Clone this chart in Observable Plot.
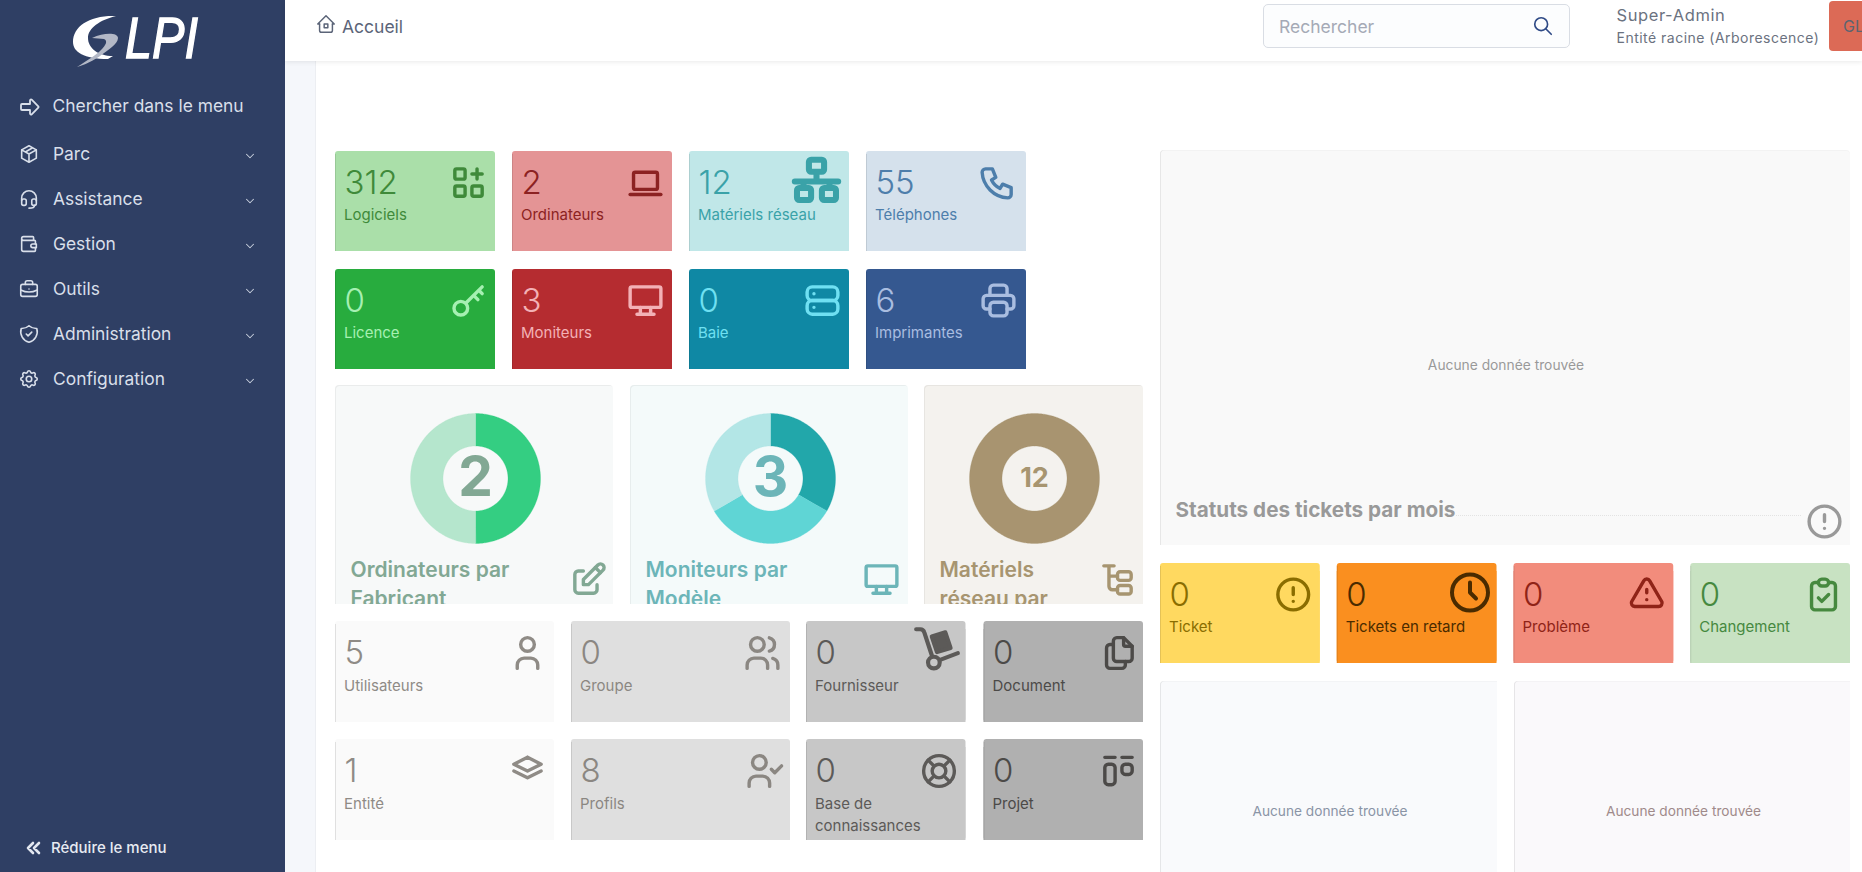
<!DOCTYPE html>
<html lang="fr"><head><meta charset="utf-8"><title>GLPI</title>
<script src="https://cdn.jsdelivr.net/npm/d3@7"></script>
<script src="https://cdn.jsdelivr.net/npm/@observablehq/plot@0.6"></script>
<style>
html,body{margin:0;padding:0;width:1862px;height:872px;overflow:hidden;background:#fff;font-family:Inter,"Noto Sans",sans-serif}
.abs{position:absolute}
#side{left:0;top:0;width:285px;height:872px;background:#2f3f64}
#band{left:285px;top:0;width:31px;height:872px;background:#f5f7fb;border-right:1px solid #eceef2;box-sizing:border-box}
#head{left:285px;top:0;width:1577px;height:61px;background:#fff;box-shadow:0 1px 5px rgba(0,0,0,.09)}
.menu{color:#d9dfea;font-size:17.400px;white-space:nowrap;line-height:20px}
.plot{position:absolute}
.plot svg{display:block}
</style></head><body>
<div id="root"></div>
<script>
// ---- data ----------------------------------------------------------------
const menuLabels = ["Parc", "Assistance", "Gestion", "Outils", "Administration", "Configuration"];
const menuIcons = ["package", "headset", "wallet", "briefcase", "shield", "settings"];

const assetLabels = ["Logiciels", "Ordinateurs", "Matériels réseau", "Téléphones", "Licence", "Moniteurs", "Baie", "Imprimantes"];
const assetValues = [312, 2, 12, 55, 0, 3, 0, 6];
const assetIcons = ["apps", "laptop", "sitemap", "phone", "key", "desktop", "server", "printer"];

const adminLabelsWide = ["Utilisateurs", "Groupe", "Entité", "Profils"];
const adminValuesWide = [5, 0, 1, 8];
const adminIconsWide = ["user", "users", "stack", "userCheck"];
const adminLabelsNarrow = ["Fournisseur", "Document", "Base de\nconnaissances", "Projet"];
const adminValuesNarrow = [0, 0, 0, 0];
const adminIconsNarrow = ["dolly", "files", "lifebuoy", "kanban"];

const ticketLabels = ["Ticket", "Tickets en retard", "Problème", "Changement"];
const ticketValues = [0, 0, 0, 0];
const ticketIcons = ["alert", "clock", "triangle", "clipboard"];

const computerSlices = [1, 1];
const monitorSlices = [1, 1, 1];
const networkSlices = [12];
const donutTitles = ["Ordinateurs par\nFabricant", "Moniteurs par\nModèle", "Matériels\nréseau par"];

// ---- styles --------------------------------------------------------------
const assetFill = ["#aadfa9", "#e49495", "#c0e7e8", "#d5e1ec", "#28ac3e", "#b52c30", "#0f88a4", "#355890"];
const assetInk = ["#3f8a3a", "#8c2222", "#3aa2a8", "#4d7eab", "#a6f0b2", "#f3b1b6", "#6fe0f2", "#a9bde0"];
const wideFill = ["#fafafa", "#dfdfdf", "#fafafa", "#dfdfdf"];
const wideInk = ["#8f8b86", "#8b8782", "#8f8b86", "#8b8782"];
const narrowFill = ["#c7c7c7", "#b0b0b0", "#c7c7c7", "#b0b0b0"];
const narrowInk = ["#5c5a58", "#4c4a48", "#5c5a58", "#4c4a48"];
const ticketFill = ["#ffd960", "#fa8f1f", "#f28c7c", "#c8e2c2"];
const ticketInk = ["#8a6d00", "#4a2b00", "#8f2317", "#46893f"];
const iconTweak = {
  sitemap: {size: 52, dx: -6, dy: -1}, phone: {dx: -2}, printer: {dx: -1},
  dolly: {size: 50, dx: -2, dy: -4}, files: {dx: 2}, kanban: {dx: 2},
  clock: {size: 48, dy: -2}, users: {dx: -1}, userCheck: {dx: 1}
};

// ---- icon artwork --------------------------------------------------------
const ICON = {
  apps:'<rect x="4" y="4" width="6" height="6" rx="1"/><rect x="4" y="14" width="6" height="6" rx="1"/><rect x="14" y="14" width="6" height="6" rx="1"/><path d="M14 7h6M17 4v6"/>',
  laptop:'<path d="M3 19h18"/><rect x="5" y="6" width="14" height="10" rx="1"/>',
  sitemap:'<g stroke-width="2.800"><rect x="8.500" y="2" width="7" height="5.500" rx="1"/><path d="M12 8v4M2 12h20M6 12v3M18 12v3"/><rect x="3" y="15" width="6.500" height="5.500" rx="1"/><rect x="14.500" y="15" width="6.500" height="5.500" rx="1"/></g>',
  phone:'<path d="M5 4h4l2 5l-2.500 1.500a11 11 0 0 0 5 5l1.500 -2.500l5 2v4a2 2 0 0 1 -2 2a16 16 0 0 1 -15 -15a2 2 0 0 1 2 -2"/>',
  key:'<circle cx="7.500" cy="16.500" r="4"/><path d="M10.500 13.500L20 4M15 9l2.500 2.500M18 6l2 2"/>',
  desktop:'<rect x="3" y="4" width="18" height="12" rx="1"/><path d="M7 20h10M9 16v4M15 16v4"/>',
  server:'<rect x="3" y="4" width="18" height="8" rx="3"/><rect x="3" y="12" width="18" height="8" rx="3"/><path d="M7 8v.01M7 16v.01"/>',
  printer:'<path d="M17 17h2a2 2 0 0 0 2 -2v-4a2 2 0 0 0 -2 -2h-14a2 2 0 0 0 -2 2v4a2 2 0 0 0 2 2h2"/><path d="M17 9v-4a2 2 0 0 0 -2 -2h-6a2 2 0 0 0 -2 2v4"/><rect x="7" y="13" width="10" height="8" rx="2"/>',
  user:'<circle cx="12" cy="7" r="4"/><path d="M6 21v-2a4 4 0 0 1 4 -4h4a4 4 0 0 1 4 4v2"/>',
  users:'<circle cx="9" cy="7" r="4"/><path d="M3 21v-2a4 4 0 0 1 4 -4h4a4 4 0 0 1 4 4v2"/><path d="M16 3.130a4 4 0 0 1 0 7.750M21 21v-2a4 4 0 0 0 -3 -3.850"/>',
  dolly:'<path d="M2 2.500h2c1 0 1.600.5 1.900 1.500L9.500 15"/><circle cx="10.500" cy="18.500" r="2.800"/><path d="M13.500 17.200L22 14"/><path fill="currentColor" d="M9.500 6L16 4l2.500 7.500L12 13.500z"/>',
  files:'<path d="M15 3v4a1 1 0 0 0 1 1h4"/><path d="M18 17h-7a2 2 0 0 1 -2 -2v-10a2 2 0 0 1 2 -2h4l5 5v7a2 2 0 0 1 -2 2z"/><path d="M16 17v2a2 2 0 0 1 -2 2h-7a2 2 0 0 1 -2 -2v-10a2 2 0 0 1 2 -2h2"/>',
  stack:'<path d="M12 4l-8 4l8 4l8 -4l-8 -4"/><path d="M4 12l8 4l8 -4"/>',
  userCheck:'<circle cx="9" cy="7" r="4"/><path d="M3 21v-2a4 4 0 0 1 4 -4h4a4 4 0 0 1 4 4v2"/><path d="M16 11l2 2l4 -4"/>',
  lifebuoy:'<circle cx="12" cy="12" r="4"/><circle cx="12" cy="12" r="9"/><path d="M15 15l3.350 3.350M9 15l-3.350 3.350M5.650 5.650l3.350 3.350M18.350 5.650l-3.350 3.350"/>',
  kanban:'<path d="M4 4h6M14 4h6"/><rect x="4" y="8" width="6" height="12" rx="2"/><rect x="14" y="8" width="6" height="6" rx="2"/>',
  alert:'<circle cx="12" cy="12" r="9"/><path d="M12 8v4M12 16h.01"/>',
  clock:'<circle cx="12" cy="12" r="9"/><path d="M12 7v5l3 3"/>',
  triangle:'<path d="M12 9v2m0 4v.01"/><path d="M5 19h14a2 2 0 0 0 1.840 -2.750l-7.100 -12.250a2 2 0 0 0 -3.500 0l-7.100 12.250a2 2 0 0 0 1.750 2.750"/>',
  clipboard:'<path d="M9 5h-2a2 2 0 0 0 -2 2v12a2 2 0 0 0 2 2h10a2 2 0 0 0 2 -2v-12a2 2 0 0 0 -2 -2h-2"/><rect x="9" y="3" width="6" height="4" rx="2"/><path d="M9 14l2 2l4 -4"/>',
  edit:'<path d="M9 7h-3a2 2 0 0 0 -2 2v9a2 2 0 0 0 2 2h9a2 2 0 0 0 2 -2v-3"/><path d="M9 15h3l8.500 -8.500a1.500 1.500 0 0 0 -3 -3l-8.500 8.500v3"/><path d="M16 5l3 3"/>',
  hierarchy:'<path d="M4 4h6M7 4v12a2 2 0 0 0 2 2h3M7 10h5"/><rect x="12" y="7.500" width="8" height="5" rx="1.500"/><rect x="12" y="15.500" width="8" height="5" rx="1.500"/>',
  home:'<path d="M5 12h-2l9 -9l9 9h-2"/><path d="M5 12v7a2 2 0 0 0 2 2h10a2 2 0 0 0 2 -2v-7"/><rect x="10" y="12" width="4" height="4"/>',
  arrow:'<path d="M4 9h8v-3.586a1 1 0 0 1 1.707 -.707l6.586 6.586a1 1 0 0 1 0 1.414l-6.586 6.586a1 1 0 0 1 -1.707 -.707v-3.586h-8a1 1 0 0 1 -1 -1v-4a1 1 0 0 1 1 -1z"/>',
  package:'<path d="M12 3l8 4.500v9l-8 4.500l-8 -4.500v-9l8 -4.500M12 12l8 -4.500M12 12v9M12 12l-8 -4.500M16 5.250l-8 4.500"/>',
  headset:'<path d="M4 14v-3a8 8 0 1 1 16 0v3M18 19c0 1.657 -2.686 3 -6 3"/><path d="M4 14a2 2 0 0 1 2 -2h1a2 2 0 0 1 2 2v3a2 2 0 0 1 -2 2h-1a2 2 0 0 1 -2 -2v-3z"/><path d="M15 14a2 2 0 0 1 2 -2h1a2 2 0 0 1 2 2v3a2 2 0 0 1 -2 2h-1a2 2 0 0 1 -2 -2v-3z"/>',
  wallet:'<path d="M17 8v-3a1 1 0 0 0 -1 -1h-10a2 2 0 0 0 0 4h12a1 1 0 0 1 1 1v3m0 4v3a1 1 0 0 1 -1 1h-12a2 2 0 0 1 -2 -2v-12"/><path d="M20 12v4h-4a2 2 0 0 1 0 -4h4"/>',
  briefcase:'<rect x="3" y="7" width="18" height="13" rx="2"/><path d="M8 7v-2a2 2 0 0 1 2 -2h4a2 2 0 0 1 2 2v2M12 12v.01M3 13a20 20 0 0 0 18 0"/>',
  shield:'<path d="M9 12l2 2l4 -4"/><path d="M12 3a12 12 0 0 0 8.500 3a12 12 0 0 1 -8.500 15a12 12 0 0 1 -8.500 -15a12 12 0 0 0 8.500 -3"/>',
  settings:'<path d="M10.325 4.317c.426 -1.756 2.924 -1.756 3.350 0a1.724 1.724 0 0 0 2.573 1.066c1.543 -.94 3.310 .826 2.370 2.370a1.724 1.724 0 0 0 1.065 2.572c1.756 .426 1.756 2.924 0 3.350a1.724 1.724 0 0 0 -1.066 2.573c.94 1.543 -.826 3.310 -2.370 2.370a1.724 1.724 0 0 0 -2.572 1.065c-.426 1.756 -2.924 1.756 -3.350 0a1.724 1.724 0 0 0 -2.573 -1.066c-1.543 .94 -3.310 -.826 -2.370 -2.370a1.724 1.724 0 0 0 -1.065 -2.572c-1.756 -.426 -1.756 -2.924 0 -3.350a1.724 1.724 0 0 0 1.066 -2.573c-.94 -1.543 .826 -3.310 2.370 -2.370c1 .608 2.296 .07 2.572 -1.065z"/><circle cx="12" cy="12" r="3"/>',
  chevron:'<path d="M6 9l6 6l6 -6"/>',
  chevrons:'<path d="M11 7l-5 5l5 5M17 7l-5 5l5 5"/>',
  search:'<circle cx="10" cy="10" r="7"/><path d="M21 21l-6 -6"/>'
};
const iconSvg = (name, color, size, sw = 2) =>
  `<svg xmlns="http://www.w3.org/2000/svg" width="${size}" height="${size}" viewBox="0 0 24 24" fill="none" stroke="${color}" color="${color}" stroke-width="${sw}" stroke-linecap="round" stroke-linejoin="round">${ICON[name]}</svg>`;
const iconUri = (name, color, size) => "data:image/svg+xml," + encodeURIComponent(iconSvg(name, color, size * 2));

// ---- page helpers --------------------------------------------------------
const root = document.getElementById("root");
function box(css, html = "", cls = "abs", id) {
  const d = document.createElement("div");
  d.className = cls; d.style.cssText = css; d.innerHTML = html; if (id) d.id = id;
  root.appendChild(d); return d;
}
function place(node, left, top, css = "") {
  const d = box(`left:${left}px;top:${top}px;${css}`, "", "plot");
  d.appendChild(node);
}
const FONT = {fontFamily: "Inter, 'Noto Sans', sans-serif", background: "transparent", display: "block"};

// ---- tile grids: Plot cells on band scales -------------------------------
function tileGrid({left, top, width, height, nCols, nRows, gapX, gapY, labels, values, icons, fills, inks,
                   numDy = -8, labelDy = 4, iconRight = 27, iconDy = -19, numLeft = 9}) {
  const colW = (width - gapX * (nCols - 1)) / nCols;
  const rowH = (height - gapY * (nRows - 1)) / nRows;
  const tiles = labels.map((label, i) => ({
    label, value: values[i], icon: icons[i], fill: fills[i], ink: inks[i],
    col: i % nCols, row: Math.floor(i / nCols)
  }));
  const xy = {x: "col", y: "row"};
  const chart = Plot.plot({
    width, height, margin: 0, style: FONT,
    x: {type: "band", axis: null, domain: d3.range(nCols), range: [0, width], paddingInner: gapX / (colW + gapX), paddingOuter: 0, round: false},
    y: {type: "band", axis: null, domain: d3.range(nRows), range: [0, height], paddingInner: nRows > 1 ? gapY / (rowH + gapY) : 0, paddingOuter: 0, round: false},
    color: {type: "identity"},
    marks: [
      Plot.cell(tiles, {...xy, fill: "fill", rx: 3}),
      Plot.cell(tiles, {...xy, fill: "fill", insetTop: 8}),
      Plot.cell(tiles, {...xy, fill: "#000", fillOpacity: 0.1, insetRight: colW - 1, insetTop: 3}),
      Plot.text(tiles, {...xy, text: d => String(d.value), fill: "ink", fontSize: 33, fontWeight: 300,
        textAnchor: "start", lineAnchor: "bottom", dx: -colW / 2 + numLeft, dy: numDy}),
      Plot.text(tiles, {...xy, text: "label", fill: "ink", fontSize: 15, fontWeight: 400, lineHeight: 1.470,
        textAnchor: "start", lineAnchor: "top", dx: -colW / 2 + numLeft - 0.500, dy: labelDy - 1}),
      tiles.map(t => {
        const tw = iconTweak[t.icon] || {};
        const size = tw.size || 41;
        return Plot.image([t], {...xy, src: iconUri(t.icon, t.ink, size), width: size, height: size,
          dx: colW / 2 - iconRight + (tw.dx || 0), dy: iconDy + (tw.dy || 0)});
      })
    ]
  });
  place(chart, left, top);
}

// ---- donut cards: geo polygons in an azimuthal projection ----------------
function sliceFeatures(slices, colors) {
  const total = d3.sum(slices);
  let start = 0;
  return slices.map((v, i) => {
    const span = v / total * 360;
    const a0 = start, a1 = start + span;
    start += span;
    const angles = d3.range(a0, a1, 1).concat([a1]);
    let coordinates;
    if (span >= 360) {
      // whole ring: outer parallel with the inner parallel as its hole
      coordinates = [angles.map(a => [-a, 0]), angles.slice().reverse().map(a => [-a, 45])];
    } else {
      const ring = [...angles.map(a => [-a, 0]), ...angles.slice().reverse().map(a => [-a, 45])];
      ring.push(ring[0]);
      coordinates = [ring];
    }
    const geometry = {type: "Polygon", coordinates};
    if (d3.geoArea(geometry) > 2 * Math.PI) coordinates.forEach(r => r.reverse());
    return {type: "Feature", geometry, properties: {color: colors[i]}};
  });
}
function donutCard({left, top, width, height, mLeft, mRight, slices, colors, bg, ink, title, icon, numSize, iconX}) {
  const features = sliceFeatures(slices, colors);
  const circle = d3.geoCircle().center([0, 90]).radius(90)();
  const chart = Plot.plot({
    width, height, marginLeft: mLeft, marginRight: mRight, marginTop: 28, marginBottom: height - 158,
    style: {...FONT, background: bg, borderRadius: "4px 4px 0 0", boxShadow: "inset 1px 1px 0 rgba(0,0,0,.05)"},
    projection: {type: "azimuthal-equidistant", rotate: [180, -90], domain: circle, inset: 0},
    color: {type: "identity"},
    marks: [
      Plot.geo(features, {fill: d => d.properties.color, stroke: d => d.properties.color, strokeWidth: 0.300}),
      Plot.text([d3.sum(slices)], {frameAnchor: "middle", text: d => String(d), fill: ink, fontSize: numSize, fontWeight: 700}),
      Plot.text([title], {frameAnchor: "top-left", text: d => d, fill: ink, fontSize: 21, fontWeight: 600, lineHeight: 1.380,
        textAnchor: "start", lineAnchor: "top", dx: 15 - mLeft, dy: 143}),
      Plot.image([icon], {frameAnchor: "top-left", src: d => iconUri(d, ink, 41), width: 41, height: 41, dx: iconX - mLeft, dy: 166})
    ]
  });
  place(chart, left, top);
}

// ---- chrome --------------------------------------------------------------
box("", "", "abs", "side");
box("", "", "abs", "band");
// logo
box("left:0;top:0;width:285px;height:80px", `<svg width="285" height="80" style="display:block">
  <path fill="#fff" d="M116 16C90 15 73 26 73 42C73 52 84 59 108 59L113 56C98 56 88 48 88 38C88 28 100 20 116 16Z"/>
  <path fill="#b3b8c6" d="M92 38C105 32 118 33 118 38C118 44 108 50 100 56C97 58 90 63 77 67C88 60 96 55 101 50C106 45 108 41 104 39Z"/>
  <text x="125" y="58" fill="#fff" stroke="#fff" stroke-width="1.400" font-family="Liberation Sans" font-style="italic" font-size="58" textLength="73" lengthAdjust="spacingAndGlyphs">LPI</text></svg>`);
box("left:18px;top:95px;width:22px;height:22px", iconSvg("arrow", "#d9dfea", 24, 1.800));
box("left:52.500px;top:96px", "Chercher dans le menu", "abs menu");
menuLabels.forEach((label, i) => {
  const y = 154 + i * 45;
  box(`left:18px;top:${y - 11}px;width:22px;height:22px`, iconSvg(menuIcons[i], "#d9dfea", 22, 1.750));
  box(`left:53px;top:${y - 10}px`, label, "abs menu");
  box(`left:243px;top:${y - 7}px;width:14px;height:14px`, iconSvg("chevron", "#c9d0de", 14, 1.800));
});
box("left:22px;top:836px;width:24px;height:24px", iconSvg("chevrons", "#e3e7f0", 24, 2.600));
box("left:51px;top:838px;font-size:15px;font-weight:500;color:#e8ebf2", "Réduire le menu", "abs menu");

box("", "", "abs", "head");
box("left:315px;top:13px;width:22px;height:22px", iconSvg("home", "#5b6478", 22, 1.600));
box("left:342px;top:17px;font-size:17.500px;color:#5b6478;line-height:20px", "Accueil");
box("left:1263px;top:4px;width:307px;height:44px;box-sizing:border-box;border:1px solid #d9dde4;border-radius:5px;background:#fcfdfe");
box("left:1279px;top:17px;font-size:17.500px;color:#a5aab6;line-height:20px", "Rechercher");
box("left:1532px;top:15px;width:22px;height:22px", iconSvg("search", "#2f4a86", 22, 1.800));
box("left:1616.500px;top:5px;font-size:16.500px;letter-spacing:.6px;color:#6b7280;line-height:20px", "Super-Admin");
box("left:1616.500px;top:28px;font-size:14px;letter-spacing:.48px;color:#6b7280;line-height:20px;white-space:nowrap", "Entité racine (Arborescence)");
box("left:1829px;top:1px;width:33px;height:50px;background:#dc6a56;border-radius:4px 0 0 4px;overflow:hidden");
box("left:1843px;top:16px;width:19px;overflow:hidden;font-size:16px;color:#5d6470;line-height:20px", "GL");

// right-hand panels
box("left:1160px;top:150px;width:690px;height:395px;background:#f9f9f9;border-radius:4px 4px 0 0;box-shadow:inset 1px 0 0 rgba(0,0,0,.07),inset 0 1px 0 rgba(0,0,0,.025)");
box("left:1160px;top:150px;width:692px;height:430px;font-size:13.800px;color:#999", "<div style='position:absolute;left:0;right:0;top:207px;text-align:center'>Aucune donnée trouvée</div>");
box("left:1175.500px;top:496px;font-size:20.700px;font-weight:700;color:#999;line-height:28px;white-space:nowrap", "Statuts des tickets par mois");
box("left:1456px;top:515px;width:345px;border-top:1px dotted #e3e3e3");
box("left:1803.500px;top:500.500px;width:41px;height:41px", iconSvg("alert", "#999", 41));
const cardCss = "top:681px;height:191px;border-radius:4px 4px 0 0;box-shadow:inset 1px 0 0 rgba(0,0,0,.08),inset 0 1px 0 rgba(0,0,0,.025);padding-top:121px;box-sizing:border-box;text-align:center;font-size:13.700px;line-height:18px;";
box(cardCss + "left:1160px;width:340px;background:#f9fafc;color:#8a94a6;clip-path:inset(0 3px 0 0)", "Aucune donnée trouvée");
box(cardCss + "left:1514px;width:339px;background:#faf9fb;color:#a08a8a;clip-path:inset(0 3px 0 0)", "Aucune donnée trouvée");

// ---- charts --------------------------------------------------------------
tileGrid({left: 335, top: 151, width: 691, height: 218, nCols: 4, nRows: 2, gapX: 17, gapY: 18,
  labels: assetLabels, values: assetValues, icons: assetIcons, fills: assetFill, inks: assetInk});

donutCard({left: 335, top: 385, width: 278, height: 219, mLeft: 75, mRight: 73, slices: computerSlices,
  colors: ["#34ce82", "#b5e6cd"], bg: "#f7f9f9", ink: "#82a894", title: donutTitles[0], icon: "edit", numSize: 55, iconX: 253});
donutCard({left: 630, top: 385, width: 278, height: 219, mLeft: 75, mRight: 73, slices: monitorSlices,
  colors: ["#22a7aa", "#5fd5d5", "#b3e6e6"], bg: "#f4fafa", ink: "#6cb5b8", title: donutTitles[1], icon: "desktop", numSize: 55, iconX: 251});
donutCard({left: 924, top: 385, width: 219, height: 219, mLeft: 45, mRight: 44, slices: networkSlices,
  colors: ["#a89470"], bg: "#f4f2ee", ink: "#a79570", title: donutTitles[2], icon: "hierarchy", numSize: 27, iconX: 193});

tileGrid({left: 335, top: 621, width: 455, height: 219, nCols: 2, nRows: 2, gapX: 17, gapY: 17,
  labels: adminLabelsWide, values: adminValuesWide, icons: adminIconsWide, fills: wideFill, inks: wideInk});
tileGrid({left: 806, top: 621, width: 337, height: 219, nCols: 2, nRows: 2, gapX: 18, gapY: 17,
  labels: adminLabelsNarrow, values: adminValuesNarrow, icons: adminIconsNarrow, fills: narrowFill, inks: narrowInk});

tileGrid({left: 1160, top: 563, width: 690, height: 100, nCols: 4, nRows: 1, gapX: 17, gapY: 0,
  labels: ticketLabels, values: ticketValues, icons: ticketIcons, fills: ticketFill, inks: ticketInk});
</script>
</body></html>
